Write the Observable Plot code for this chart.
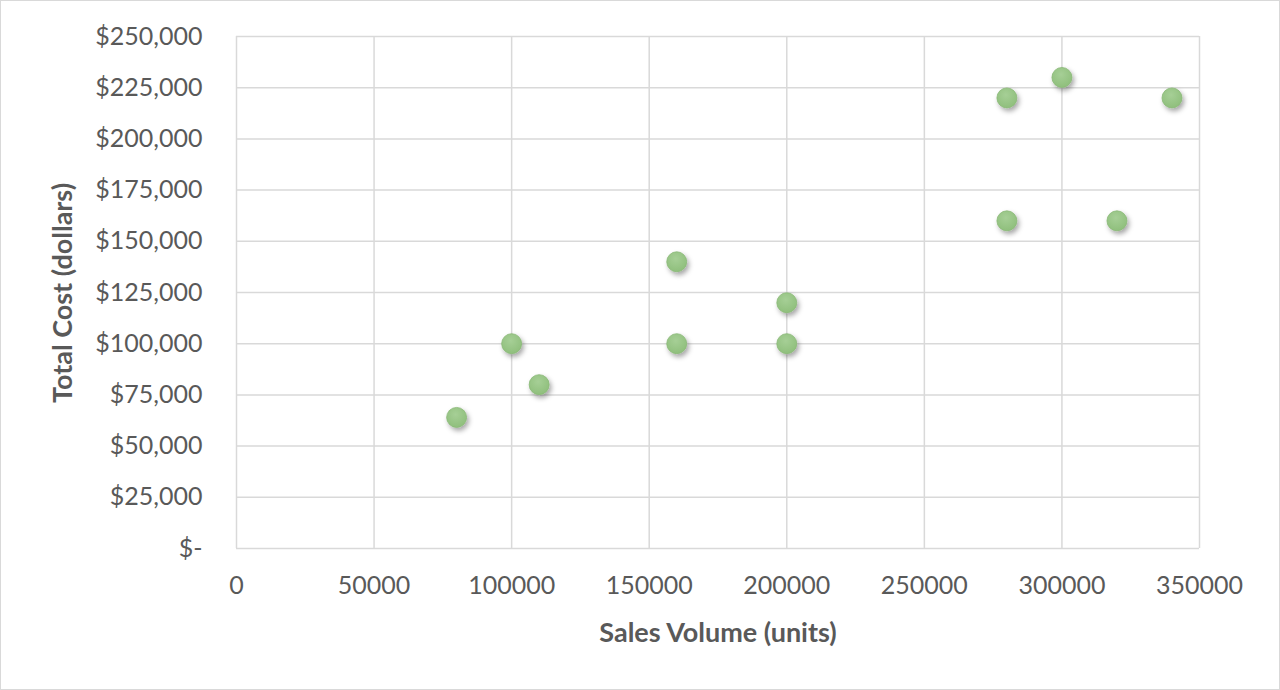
<!DOCTYPE html>
<html><head><meta charset="utf-8">
<script src="https://cdn.jsdelivr.net/npm/d3@7"></script>
<script src="https://cdn.jsdelivr.net/npm/@observablehq/plot@0.6"></script>
<style>
html,body{margin:0;padding:0;background:#fff;}
#chart{width:1280px;height:690px;position:relative;box-sizing:border-box;border:1px solid #d9d9d9;}
</style></head><body><div id="chart"></div>
<script>
const salesVolume = [80000, 100000, 110000, 160000, 160000, 200000, 200000, 280000, 280000, 300000, 320000, 340000];
const totalCost   = [64000, 100000, 80000, 140000, 100000, 120000, 100000, 220000, 160000, 230000, 160000, 220000];
const xTicks = [0, 50000, 100000, 150000, 200000, 250000, 300000, 350000];
const yTicks = [0, 25000, 50000, 75000, 100000, 125000, 150000, 175000, 200000, 225000, 250000];
const xTitle = "Sales Volume (units)";
const yTitle = "Total Cost (dollars)";

const data = salesVolume.map((x, i) => ({x, y: totalCost[i]}));
const fmtY = v => v === 0 ? "$-" : "$" + d3.format(",")(v);

const plot = Plot.plot({
  width: 1278, height: 688,
  marginLeft: 235, marginRight: 80, marginTop: 35, marginBottom: 141,
  style: {fontFamily: "Lato, 'Open Sans', sans-serif", fontSize: "25px", color: "#595959", background: "#fff"},
  x: {domain: [0, 350000], ticks: xTicks, tickFormat: d => String(d), tickSize: 0, tickPadding: 28, label: null},
  y: {domain: [0, 250000], ticks: yTicks, tickFormat: fmtY, tickSize: 0, tickPadding: 34, label: null},
  marks: [
    Plot.gridX(xTicks, {stroke: "#d9d9d9", strokeOpacity: 1, strokeWidth: 1.5}),
    Plot.gridY(yTicks, {stroke: "#d9d9d9", strokeOpacity: 1, strokeWidth: 1.5}),
    Plot.axisX({ticks: xTicks, tickFormat: d => String(d), tickSize: 0, tickPadding: 28, label: null, fill: "#595959", fontSize: 25}),
    Plot.axisY({ticks: yTicks, tickFormat: fmtY, tickSize: 0, tickPadding: 34, label: null, fill: "#595959", fontSize: 25}),
    Plot.dot(data, {x: "x", y: "y", r: 10, fill: "url(#dotGrad)", stroke: "#8ab977", strokeWidth: 0.8, className: "pts"})
  ]
});

const svg = d3.select(plot);
const defs = svg.insert("defs", ":first-child");
const g = defs.append("radialGradient").attr("id", "dotGrad").attr("cx", "45%").attr("cy", "35%").attr("r", "65%");
g.append("stop").attr("offset", "0%").attr("stop-color", "#a6cf96");
g.append("stop").attr("offset", "100%").attr("stop-color", "#8fbf7c");
const f = defs.append("filter").attr("id", "shadow").attr("x", "-50%").attr("y", "-50%").attr("width", "200%").attr("height", "200%");
f.append("feDropShadow").attr("dx", 2).attr("dy", 3).attr("stdDeviation", 2.5).attr("flood-color", "#000").attr("flood-opacity", 0.35);
svg.selectAll("g.pts").attr("filter", "url(#shadow)");

// axis titles
svg.append("text").attr("x", 717).attr("y", 641).attr("text-anchor", "middle")
  .attr("font-weight", "bold").attr("font-size", 27).attr("fill", "#595959").text(xTitle);
svg.append("text").attr("transform", "translate(71,292) rotate(-90)").attr("text-anchor", "middle")
  .attr("font-weight", "bold").attr("font-size", 27).attr("fill", "#595959").text(yTitle);

document.getElementById("chart").appendChild(plot);
</script></body></html>
